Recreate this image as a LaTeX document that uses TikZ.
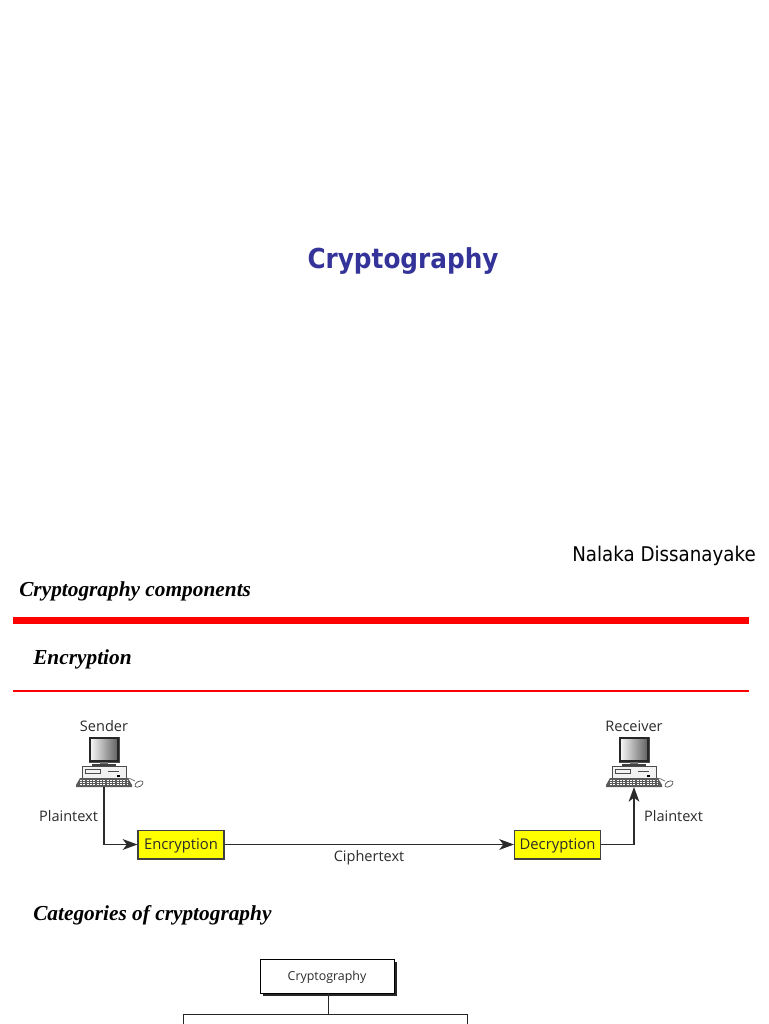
\documentclass[tikz,border=0pt]{standalone}
\usepackage{fontspec}
\setmainfont{Liberation Serif}
\newfontfamily\labelfont{Open Sans}
\newfontfamily\titlefont[FakeStretch=0.9]{DejaVu Sans}
\usetikzlibrary{arrows.meta}
\definecolor{titleblue}{HTML}{333399}
\definecolor{boxyellow}{HTML}{FFFF00}
\definecolor{rulered}{HTML}{FF0000}
\definecolor{inkgray}{HTML}{2B2B2B}
\tikzset{
  heading/.style={anchor=base west, inner sep=0pt, font=\fontsize{16}{18}\selectfont\bfseries\itshape},
  figlabel/.style={inner sep=0pt, text=inkgray, font=\labelfont\fontsize{10.9}{12}\selectfont},
  stagebox/.style={draw=black!75, fill=boxyellow, line width=0.8pt, minimum width=64.5pt, minimum height=21.7pt, inner sep=0pt, text height=9pt, text depth=1.8pt, text=inkgray, font=\labelfont\fontsize{11.1}{12}\selectfont},
  catbox/.style={draw=black, fill=white, line width=0.6pt, minimum width=100.5pt, minimum height=25.5pt, inner sep=0pt, text height=7.6pt, text depth=1.6pt, text=inkgray, font=\labelfont\fontsize{9.3}{10}\selectfont},
  wire/.style={draw=inkgray, line width=1.3pt},
  tip/.style={-{Stealth[length=11pt,width=8pt,inset=3pt]}},
  computer/.pic={
    % monitor
    \draw[black!70, line width=0.6pt, left color=white, right color=black!65] (0,0) rectangle (30,25);
    \draw[black!85, line width=1.3pt] (1,1) rectangle (29,24);
    \fill[black!55] (11,25) rectangle (19,28);
    \fill[black!75] (3,27) rectangle (27,29);
    % case
    \draw[black!70, line width=0.5pt, fill=black!5] (-7,29) rectangle (37,41);
    \draw[black!70, line width=0.5pt] (-4,32) rectangle (11,36);
    \draw[black!70, line width=0.7pt] (19,34) -- (30,34);
    \fill[black] (28,38) rectangle (31,40);
    % keyboard
    \fill[black!65] (-9,41) -- (39,41) -- (43,48) -- (43,50) -- (-13,50) -- (-13,48) -- cycle;
    \foreach \row in {43,45,47}
      \draw[white, line width=0.3pt, dash pattern=on 1.5pt off 1pt] (-9,\row) -- (39,\row);
    % mouse
    \draw[black!60, line width=0.5pt] (37,41) .. controls (40,41) and (43,42) .. (46,44);
    \draw[black!70, line width=0.5pt, fill=white, rotate around={30:(50,47)}] (50,47) ellipse (4.5 and 2.6);
    \coordinate (-kbd) at (15,50);
  }
}
\begin{document}
\begin{tikzpicture}[x=0.75pt, y=-0.75pt]
  \useasboundingbox (0,0) rectangle (768,1024);

  % Title and author
  \node[inner sep=0pt, text=titleblue, font=\titlefont\fontsize{20.6}{24}\selectfont\bfseries] (title) at (403,261) {Cryptography};
  \node[anchor=base east, inner sep=0pt, font=\titlefont\fontsize{15.2}{17}\selectfont] (author) at (756,561) {Nalaka Dissanayake};

  % Headings and rules
  \node[heading] (components) at (19,596) {Cryptography components};
  \fill[rulered] (13,617) rectangle (749,624);
  \node[heading] (encrypthead) at (33,664) {Encryption};
  \fill[rulered] (13,690) rectangle (749,692);
  \node[heading] (categories) at (33,920.5) {Categories of cryptography};

  % Computers
  \pic (sender) at (89,737) {computer};
  \pic (receiver) at (619,737) {computer};
  \node[figlabel] (senderlabel) at (104,726) {Sender};
  \node[figlabel] (receiverlabel) at (634,726) {Receiver};

  % Stages
  \node[stagebox] (encrypt) at (181,844.5) {Encryption};
  \node[stagebox] (decrypt) at (557.5,844.5) {Decryption};

  % Connectors
  \draw[wire, tip] (sender-kbd) |- (encrypt);
  \draw[wire, tip] (encrypt) -- (decrypt);
  \draw[wire, tip] (decrypt) -| (receiver-kbd);
  \node[figlabel] (plainleft) at (68.5,816) {Plaintext};
  \node[figlabel] (plainright) at (673.5,816) {Plaintext};
  \node[figlabel] (cipher) at (369,858) {Ciphertext};

  % Categories tree
  \fill[black!85] (263,962) rectangle (397,996);
  \node[catbox] (root) at (327,976) {Cryptography};
  \coordinate (branch) at (328,1014);
  \coordinate (leftdrop) at (183,1024);
  \coordinate (rightdrop) at (467,1024);
  \draw[black!85, line width=0.7pt] (root.south -| branch) -- (branch);
  \draw[black!85, line width=0.7pt] (leftdrop) |- (branch) -| (rightdrop);
\end{tikzpicture}
\end{document}
